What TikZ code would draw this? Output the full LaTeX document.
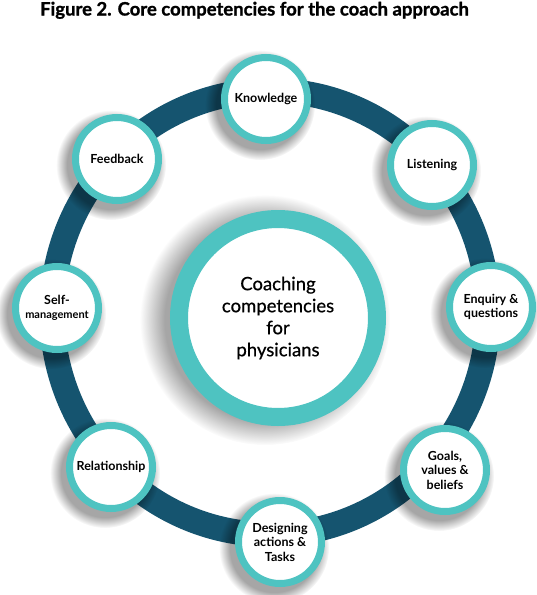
\documentclass[tikz,border=0pt]{standalone}
\usepackage{fontspec}
\setmainfont{Lato}
\usetikzlibrary{fadings}
\definecolor{ringblue}{HTML}{15546F}
\definecolor{tealc}{HTML}{4EC3C1}
\begin{document}
\begin{tikzpicture}[x=1pt,y=-1pt,
  comp/.style={circle, draw=tealc, line width=7pt, fill=white, minimum size=83pt,
    inner sep=0pt, align=center, text=black,
    font=\bfseries\fontsize{12.5}{14.5}\selectfont},
  hub/.style={circle, draw=tealc, line width=18pt, fill=white, minimum size=198pt,
    inner sep=0pt, align=center, text=black,
    font=\fontsize{18.5}{22}\selectfont\addfontfeature{FakeBold=0.6}},
  shadowc/.style={fill=black, opacity=0.35, path fading=circle with fuzzy edge 20 percent},
  titlestyle/.style={font=\bfseries\fontsize{18.5}{22}\selectfont\addfontfeature{FakeBold=1.2},
    text=black, anchor=base, inner sep=0pt}]
\useasboundingbox (0,0) rectangle (537,595);
\fill[white] (0,0) rectangle (537,595);
% title
\node[titlestyle] (title) at (254.5,15.5) {Figure 2. Core competencies for the coach approach};
% ring
\draw[ringblue, line width=25pt] (270,312.5) ellipse [x radius=218pt, y radius=222pt];
% shadows
\fill[shadowc] (265,320) circle [radius=125pt];
\foreach \cx/\cy in {266/99, 432/165, 491/307, 445/470, 280/542, 111/467, 57/308, 117/159}{
  \fill[shadowc] (\cx-6,\cy+6) circle [radius=55pt];
}
% centre
\node[hub] (hub) at (278,318) {Coaching\\competencies\\for\\physicians};
% competencies
\node[comp] (knowledge) at (266,99) {Knowledge};
\node[comp] (listening) at (432,165) {Listening};
\node[comp] (enquiry) at (491,307) {Enquiry \&\\questions};
\node[comp] (goals) at (445,470) {Goals,\\values \&\\beliefs};
\node[comp] (designing) at (280,542) {Designing\\actions \&\\Tasks};
\node[comp] (relationship) at (111,467) {Relationship};
\node[comp] (selfman) at (57,308) {Self-\\{\fontsize{11}{14.5}\selectfont management}};
\node[comp] (feedback) at (117,159) {Feedback};
\end{tikzpicture}
\end{document}
